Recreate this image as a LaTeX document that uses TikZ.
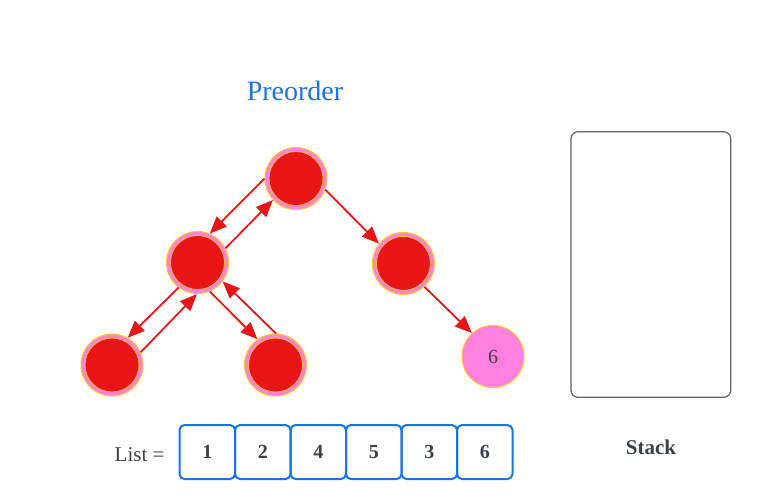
\documentclass[tikz,border=0pt]{standalone}
\usepackage{fontspec}
\setmainfont{Liberation Serif}
\usetikzlibrary{arrows.meta}
\definecolor{redc}{HTML}{E81416}
\definecolor{pinkc}{HTML}{FF80DF}
\definecolor{yell}{HTML}{FFC629}
\definecolor{bluec}{HTML}{1A73E8}
\definecolor{txtc}{HTML}{3C4048}
\definecolor{grayc}{HTML}{5F6368}
\tikzset{
  tn/.style={circle, minimum size=62pt, inner sep=0pt, fill=pinkc, draw=yell, line width=1pt,
    path picture={\fill[redc] (path picture bounding box.center) circle (27pt);
      \draw[yell, line width=0.8pt] (path picture bounding box.center) circle (27pt);}},
  pn/.style={circle, minimum size=62pt, inner sep=0pt, fill=pinkc, draw=yell, line width=1pt,
    text=txtc, font=\fontsize{20}{24}\selectfont},
  ar/.style={draw=redc, line width=1.8pt, -{Triangle[length=17pt,width=14pt]}, fill=redc},
  lbox/.style={draw=bluec, line width=2pt, rounded corners=5pt, minimum width=55.5pt,
    minimum height=54pt, inner sep=0pt, text=txtc, font=\fontsize{20}{24}\selectfont\bfseries},
}
\begin{document}
\begin{tikzpicture}[x=1pt,y=-1pt]
\useasboundingbox[fill=white] (0,0) rectangle (774,499);
\node[text=bluec, font=\fontsize{28}{32}\selectfont] (title) at (295,91) {Preorder};
\node[tn] (n1) at (296,178.5) {};
\node[tn] (n2) at (197.5,262.5) {};
\node[tn] (n3) at (403.4,263.4) {};
\node[tn] (n4) at (112,365) {};
\node[tn] (n5) at (275.5,365) {};
\node[pn] (n6) at (493,356.5) {6};
\draw[ar] (n1.180) -- (n2.67);
\draw[ar] (n2.27) -- (n1.223);
\draw[ar] (n1.339) -- (n3.141);
\draw[ar] (n2.233) -- (n4.60);
\draw[ar] (n4.24) -- (n2.269);
\draw[ar] (n2.293) -- (n5.125);
\draw[ar] (n5.89) -- (n2.323);
\draw[ar] (n3.312) -- (n6.132);
\node[lbox] (l1) at (207.25,452) {1};
\node[lbox] (l2) at (262.75,452) {2};
\node[lbox] (l3) at (318.25,452) {4};
\node[lbox] (l4) at (373.75,452) {5};
\node[lbox] (l5) at (429.25,452) {3};
\node[lbox] (l6) at (484.75,452) {6};
\node[anchor=east, text=txtc, font=\fontsize{21}{25}\selectfont] (lst) at (168,455) {List =};
\node[draw=grayc, line width=1.2pt, rounded corners=7pt, minimum width=159.7pt, minimum height=265.6pt, inner sep=0pt] (stack) at (650.85,264.5) {};
\node[text=txtc, font=\fontsize{21}{25}\selectfont\bfseries] (stl) at (651,447) {Stack};
\end{tikzpicture}
\end{document}
